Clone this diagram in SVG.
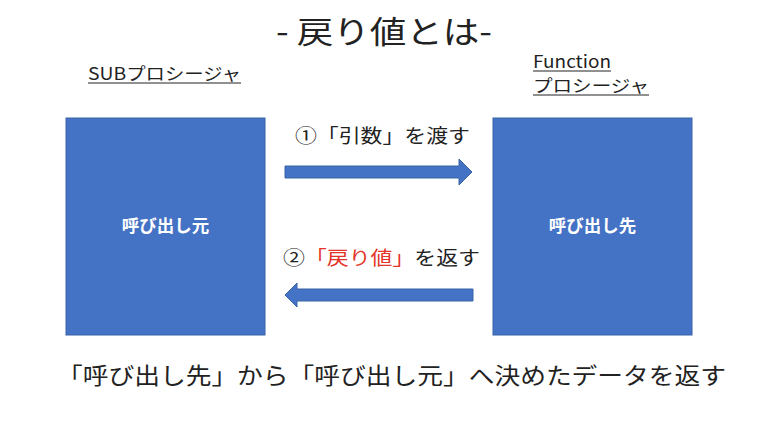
<svg xmlns="http://www.w3.org/2000/svg" width="768" height="432" viewBox="0 0 768 432">
<style>
text{font-family:"Noto Sans CJK JP","Noto Sans",sans-serif;fill:#222}
.box{fill:#4472C4;stroke:#3A62A8;stroke-width:1}
.lbl{fill:#fff;font-weight:bold;font-size:17.5px;text-anchor:middle}
.arr{fill:#4472C4;stroke:#3A62A8;stroke-width:1}
.red{fill:#E3342A}
</style>
<rect width="768" height="432" fill="#fff"/>
<text x="384" y="43" font-size="31" text-anchor="middle" textLength="216" lengthAdjust="spacingAndGlyphs">- 戻り値とは-</text>
<g id="sub-label">
<text x="88" y="80" font-size="17" textLength="153" lengthAdjust="spacingAndGlyphs">SUBプロシージャ</text>
<line x1="88" y1="83" x2="241" y2="83" stroke="#222" stroke-width="1"/>
</g>
<g id="func-label">
<text x="533" y="68" font-size="17" textLength="78" lengthAdjust="spacingAndGlyphs">Function</text>
<line x1="533" y1="71" x2="611" y2="71" stroke="#222" stroke-width="1"/>
<text x="533" y="92" font-size="17" textLength="116" lengthAdjust="spacingAndGlyphs">プロシージャ</text>
<line x1="533" y1="95" x2="649" y2="95" stroke="#222" stroke-width="1"/>
</g>
<g id="caller">
<rect class="box" x="66" y="118" width="199" height="217"/>
<text class="lbl" x="165.5" y="232">呼び出し元</text>
</g>
<g id="callee">
<rect class="box" x="493" y="118" width="199" height="217"/>
<text class="lbl" x="592.5" y="232">呼び出し先</text>
</g>
<g id="connectors">
<polygon class="arr" points="285,166 459,166 459,159 472,172 459,185 459,178 285,178"/>
<polygon class="arr" points="473,289 297,289 297,283 285,295 297,307 297,301 473,301"/>
</g>
<text x="295" y="143" font-size="19" textLength="175" lengthAdjust="spacingAndGlyphs">①「引数」を渡す</text>
<text x="283" y="265" font-size="19" textLength="197" lengthAdjust="spacingAndGlyphs">②<tspan class="red">「戻り値」</tspan>を返す</text>
<text x="57" y="384" font-size="23" textLength="669" lengthAdjust="spacingAndGlyphs">「呼び出し先」から「呼び出し元」へ決めたデータを返す</text>
</svg>
